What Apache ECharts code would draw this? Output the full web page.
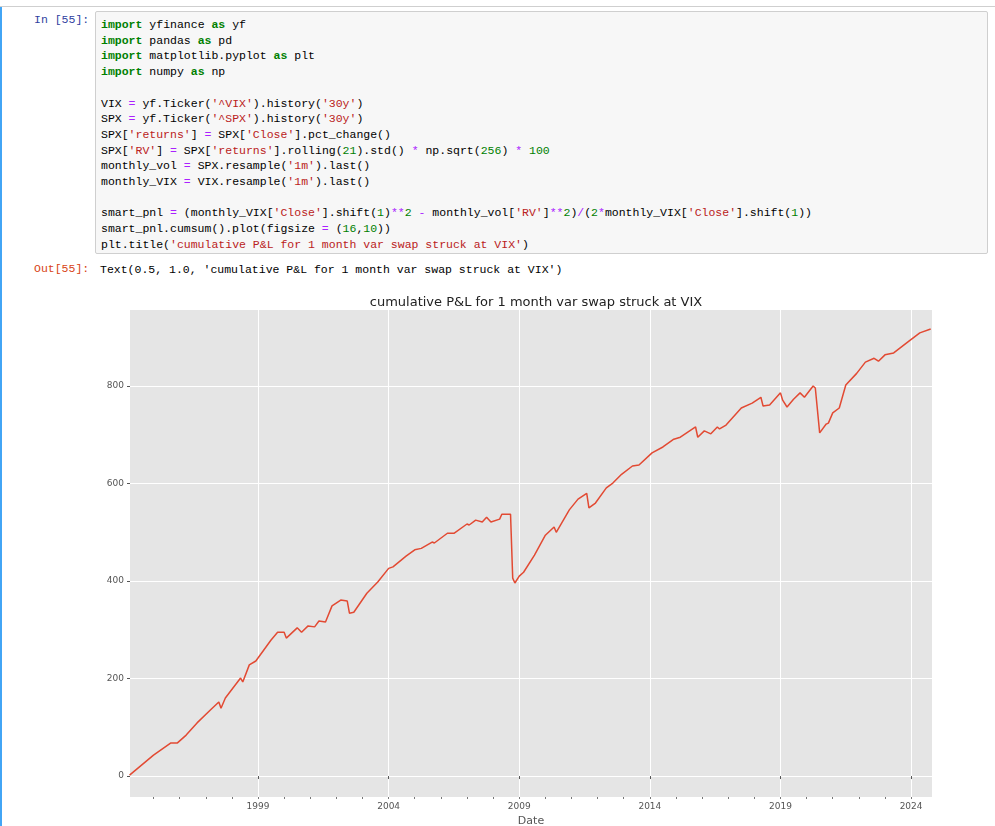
<!DOCTYPE html>
<html>
<head>
<meta charset="utf-8">
<script src="https://cdn.jsdelivr.net/npm/echarts@6/dist/echarts.min.js"></script>
<style>
body { margin:0; width:995px; height:826px; background:#fff; overflow:hidden; font-family:"DejaVu Sans", sans-serif; position:relative; }
#cellTop { position:absolute; left:0; top:6px; width:995px; height:1px; background:#cfcfcf; }
#cellBar { position:absolute; left:0; top:7px; width:2px; height:819px; background:#42a5f5; }
.prompt { position:absolute; font-family:"Liberation Mono", monospace; font-size:11.5px; }
#inP { left:34px; top:13px; color:#303f9f; }
#outP { left:34px; top:262px; color:#d84315; }
#code { position:absolute; left:95px; top:11px; width:891px; height:241px; background:#f7f7f7; border:1px solid #cfcfcf; border-radius:2px; }
pre { margin:0; font-family:"Liberation Mono", monospace; font-size:11.5px; line-height:15.7px; color:#000; }
#code pre { position:absolute; left:5px; top:5px; }
#out { position:absolute; left:100px; top:262px; }
.k { color:#008000; font-weight:bold; }
.s { color:#ba2121; }
.n { color:#008000; }
.o { color:#aa22ff; }
#main { position:absolute; left:0; top:0; width:995px; height:826px; }
</style>
</head>
<body>
<div id="cellTop"></div>
<div id="cellBar"></div>
<div class="prompt" id="inP">In [55]:</div>
<div id="code"><pre><span class="k">import</span> yfinance <span class="k">as</span> yf
<span class="k">import</span> pandas <span class="k">as</span> pd
<span class="k">import</span> matplotlib.pyplot <span class="k">as</span> plt
<span class="k">import</span> numpy <span class="k">as</span> np

VIX <span class="o">=</span> yf.Ticker(<span class="s">'^VIX'</span>).history(<span class="s">'30y'</span>)
SPX <span class="o">=</span> yf.Ticker(<span class="s">'^SPX'</span>).history(<span class="s">'30y'</span>)
SPX[<span class="s">'returns'</span>] <span class="o">=</span> SPX[<span class="s">'Close'</span>].pct_change()
SPX[<span class="s">'RV'</span>] <span class="o">=</span> SPX[<span class="s">'returns'</span>].rolling(<span class="n">21</span>).std() <span class="o">*</span> np.sqrt(<span class="n">256</span>) <span class="o">*</span> <span class="n">100</span>
monthly_vol <span class="o">=</span> SPX.resample(<span class="s">'1m'</span>).last()
monthly_VIX <span class="o">=</span> VIX.resample(<span class="s">'1m'</span>).last()

smart_pnl <span class="o">=</span> (monthly_VIX[<span class="s">'Close'</span>].shift(<span class="n">1</span>)<span class="o">**</span><span class="n">2</span> <span class="o">-</span> monthly_vol[<span class="s">'RV'</span>]<span class="o">**</span><span class="n">2</span>)<span class="o">/</span>(<span class="n">2</span><span class="o">*</span>monthly_VIX[<span class="s">'Close'</span>].shift(<span class="n">1</span>))
smart_pnl.cumsum().plot(figsize <span class="o">=</span> (<span class="n">16</span>,<span class="n">10</span>))
plt.title(<span class="s">'cumulative P&amp;L for 1 month var swap struck at VIX'</span>)</pre></div>
<div class="prompt" id="outP">Out[55]:</div>
<div id="out"><pre>Text(0.5, 1.0, 'cumulative P&amp;L for 1 month var swap struck at VIX')</pre></div>
<div id="main"></div>
<script>
// 月份
var dates = [
  '1994-02','1995-01','1995-09','1995-12','1996-04','1996-09','1997-03','1997-07','1997-08','1997-10',
  '1998-05','1998-06','1998-09','1998-12','1999-07','1999-10','2000-01','2000-02','2000-07','2000-09',
  '2000-12','2001-03','2001-05','2001-08','2001-11','2002-03','2002-06','2002-07','2002-09','2003-03',
  '2003-08','2004-01','2004-03','2004-09','2005-01','2005-04','2005-09','2005-10','2006-04','2006-07',
  '2007-01','2007-02','2007-05','2007-08','2007-10','2007-12','2008-04','2008-05','2008-09','2008-10',
  '2008-11','2009-01','2009-03','2009-08','2010-01','2010-05','2010-06','2010-12','2011-04','2011-08',
  '2011-09','2011-12','2012-05','2012-08','2012-12','2013-05','2013-08','2014-02','2014-07','2014-12',
  '2015-03','2015-10','2015-11','2016-02','2016-05','2016-08','2016-09','2016-12','2017-07','2017-12',
  '2018-04','2018-05','2018-08','2019-01','2019-02','2019-04','2019-07','2019-10','2019-12','2020-04',
  '2020-05','2020-07','2020-10','2020-11','2021-01','2021-04','2021-07','2021-12','2022-04','2022-08',
  '2022-10','2023-01','2023-05','2023-12','2024-05','2024-10'
];
// 累计盈亏
var pnl = [
  2,43,68,68,84,109,135,152,139,160,
  201,193,228,236,279,295,295,283,304,295,
  308,306,318,316,349,361,359,334,336,375,
  398,426,429,451,464,467,480,478,498,498,
  517,515,525,521,531,521,527,537,537,406,
  396,410,418,453,494,511,500,546,568,580,
  550,560,591,601,619,636,638,663,675,691,
  695,716,695,708,702,716,712,720,755,765,
  777,759,761,786,771,757,773,786,777,800,
  796,704,722,724,745,755,802,826,849,857,
  851,864,868,892,909,917
];
var yearTicks = [1999, 2004, 2009, 2014, 2019, 2024];
var yTicks = [0, 200, 400, 600, 800];
var minorYears = [];
for (var y = 1995; y <= 2024; y++) minorYears.push(y);

function toYear(d) {
    var p = d.split('-');
    return +p[0] + (+p[1] - 1) / 12;
}

var chart = echarts.init(document.getElementById('main'));
var labelColor = '#555';
chart.setOption({
    animation: false,
    title: {
        text: 'cumulative P&L for 1 month var swap struck at VIX',
        left: 531, top: 291, textAlign: 'center',
        textStyle: { fontFamily: 'DejaVu Sans', fontSize: 13, fontWeight: 'normal', color: '#222' }
    },
    grid: { left: 130, right: 63, top: 310, bottom: 29, show: true, backgroundColor: '#E5E5E5', borderWidth: 0,
            containLabel: false, outerBoundsMode: 'none' },
    xAxis: [{
        type: 'value', min: 1994.1, max: 2024.8,
        name: 'Date', nameLocation: 'middle', nameGap: 17,
        nameTextStyle: { fontFamily: 'DejaVu Sans', fontSize: 11, color: '#555' },
        axisLine: { show: false },
        axisTick: { show: true, length: 3, customValues: yearTicks, lineStyle: { color: '#555' } },
        axisLabel: { customValues: yearTicks, formatter: function (v) { return String(v); },
                     fontFamily: 'DejaVu Sans', fontSize: 9, color: labelColor, margin: 5 },
        splitLine: { show: true, lineStyle: { color: '#fff', width: 1 } }
    }, {
        type: 'value', min: 1994.1, max: 2024.8, position: 'bottom',
        axisLine: { show: false },
        axisTick: { show: true, length: 2, customValues: minorYears, lineStyle: { color: '#777' } },
        axisLabel: { show: false }, splitLine: { show: false }
    }],
    yAxis: {
        type: 'value', min: -43, max: 956,
        axisLine: { show: false },
        axisTick: { show: true, length: 3, customValues: yTicks, lineStyle: { color: '#555' } },
        axisLabel: { customValues: yTicks, fontFamily: 'DejaVu Sans', fontSize: 9, color: labelColor, margin: 6 },
        splitLine: { show: true, lineStyle: { color: '#fff', width: 1 } }
    },
    series: [{
        type: 'line', xAxisIndex: 0, showSymbol: false,
        lineStyle: { color: '#E24A33', width: 1.5 },
        data: dates.map(function (d, i) { return [toYear(d), pnl[i]]; })
    }]
});
</script>
</body>
</html>
